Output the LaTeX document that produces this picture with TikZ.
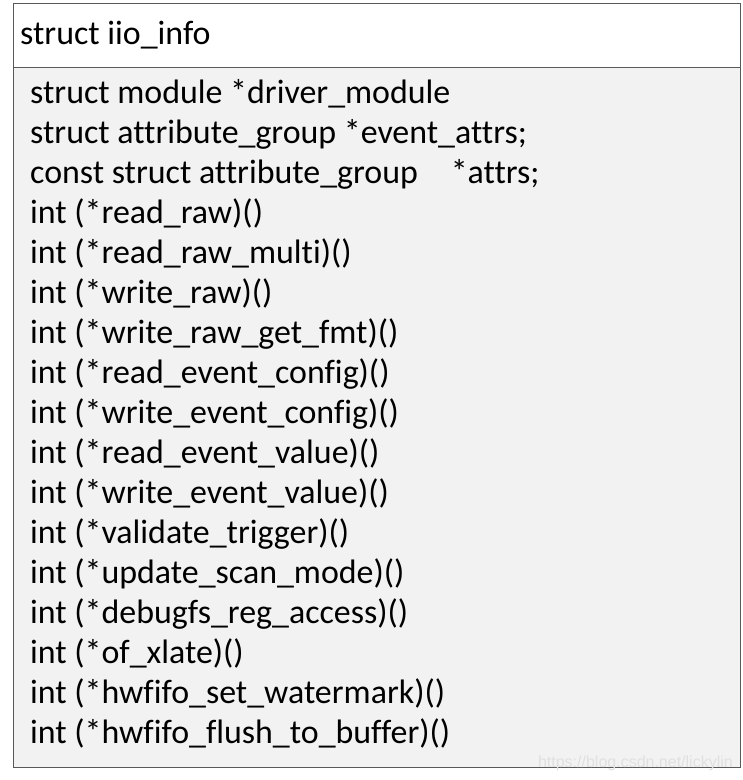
\documentclass[tikz,border=0pt]{standalone}
\usepackage{fontspec}
\setmainfont[Ligatures={NoCommon}]{Carlito}
\newfontfamily\wmfont{Liberation Sans}
\begin{document}
\begin{tikzpicture}[x=1pt,y=-1pt,
  frame/.style={draw=black!65,line width=1.4pt},
  linetext/.style={anchor=base west,inner sep=0pt,font=\fontsize{33.9}{40}\selectfont,text=black}]
\useasboundingbox (0,0) rectangle (743,780);
\node[frame,fill=white,minimum width=727pt,minimum height=64.5pt,anchor=north west,inner sep=0pt] (head) at (13,2.5) {};
\node[frame,fill=black!5,minimum width=727pt,minimum height=699.5pt,anchor=north west,inner sep=0pt] (body) at (13,67) {};
\node[linetext] (title) at (20,44.5) {struct iio\_info};
\foreach \t [count=\i] in {
  {struct module *driver\_module},
  {struct attribute\_group *event\_attrs;},
  {const struct attribute\_group\hspace{33pt}*attrs;},
  {int (*read\_raw)()},
  {int (*read\_raw\_multi)()},
  {int (*write\_raw)()},
  {int (*write\_raw\_get\_fmt)()},
  {int (*read\_event\_config)()},
  {int (*write\_event\_config)()},
  {int (*read\_event\_value)()},
  {int (*write\_event\_value)()},
  {int (*validate\_trigger)()},
  {int (*update\_scan\_mode)()},
  {int (*debugfs\_reg\_access)()},
  {int (*of\_xlate)()},
  {int (*hwfifo\_set\_watermark)()},
  {int (*hwfifo\_flush\_to\_buffer)()}}
  \node[linetext] (l\i) at (30,{103+40.06*(\i-1)}) {\t};
\node[anchor=base east,inner sep=0pt,font=\wmfont\fontsize{16}{18}\selectfont,text=black!12] (wm) at (733,767) {https://blog.csdn.net/lickylin};
\end{tikzpicture}
\end{document}
